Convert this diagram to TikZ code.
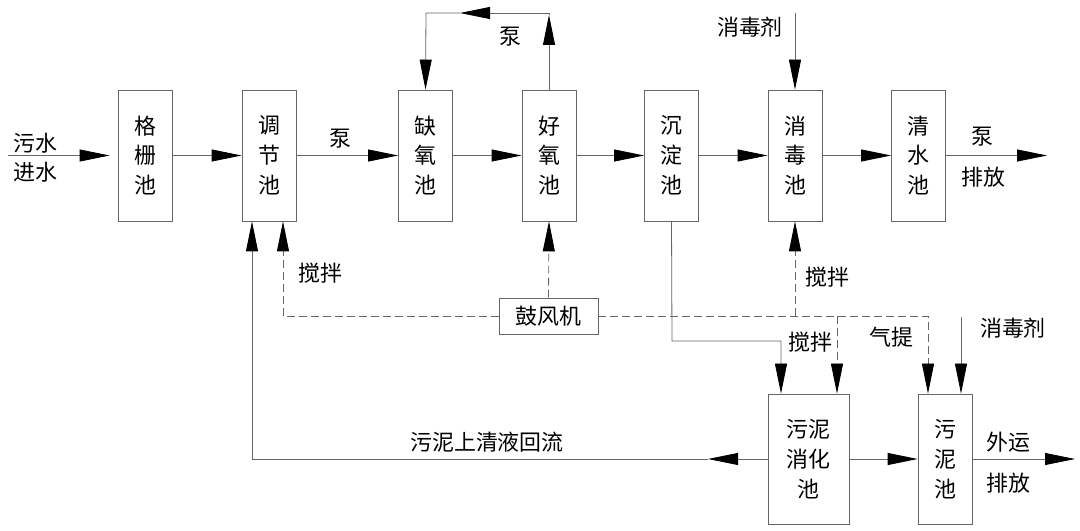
\documentclass[tikz,border=0pt]{standalone}
\usepackage{fontspec}
\setmainfont{Noto Sans CJK SC}
\usetikzlibrary{arrows.meta}
\begin{document}
\begin{tikzpicture}[x=1bp,y=-1bp,
 ln/.style={draw=black!60, line width=0.8bp},
 arr/.style={ln, -{Triangle[length=30bp,width=12bp,color=black]}},
 dsh/.style={dash pattern=on 8bp off 4bp},
 tank/.style={draw=black!60, line width=0.8bp, minimum width=54bp, minimum height=131bp, inner sep=0pt, align=center, font=\fontsize{22}{30}\selectfont},
 lbl/.style={font=\fontsize{22}{29}\selectfont, inner sep=0pt, align=center}]
\useasboundingbox[fill=white] (0,0) rectangle (1080,531);
% main tanks
\node[tank] (gs) at (145,155.5) {格\\栅\\池};
\node[tank] (tj) at (269,155.5) {调\\节\\池};
\node[tank] (qy) at (425.5,155.5) {缺\\氧\\池};
\node[tank] (hy) at (549,155.5) {好\\氧\\池};
\node[tank] (cd) at (671.5,155.5) {沉\\淀\\池};
\node[tank] (xd) at (795,155.5) {消\\毒\\池};
\node[tank] (qs) at (918.5,155.5) {清\\水\\池};
\node[tank, minimum width=81bp, minimum height=130bp] (xh) at (808.5,459) {污泥\\消化\\池};
\node[tank, minimum height=130bp] (wn) at (945,459) {污\\泥\\池};
\node[tank, minimum width=99bp, minimum height=36bp] (gf) at (548.5,316) {鼓风机};
% labels
\node[lbl] (t1) at (35,157.5) {污水\\进水};
\node[lbl] (t2) at (340,139) {泵};
\node[lbl] (t3) at (510,37) {泵};
\node[lbl] (t4) at (750,27) {消毒剂};
\node[lbl] (t5) at (982,137) {泵};
\node[lbl] (t6) at (983,177) {排放};
\node[lbl] (t7) at (320,273) {搅拌};
\node[lbl] (t8) at (827,277) {搅拌};
\node[lbl] (t9) at (810,342) {搅拌};
\node[lbl] (t10) at (891,337) {气提};
\node[lbl] (t11) at (1013,328) {消毒剂};
\node[lbl] (t12) at (1008,442) {外运};
\node[lbl] (t13) at (1008,483) {排放};
\node[lbl] (t14) at (487,442) {污泥上清液回流};
% coordinates
\coordinate (in) at (8,155.5);
\coordinate (out1) at (1047,155.5);
\coordinate (out2) at (1075,459);
\coordinate (r1) at (549,15);
\coordinate (r2) at (549,13);
\coordinate (r3) at (460,13);
\coordinate (r4) at (426,13);
\coordinate (d1) at (795,13);
\coordinate (back) at (708,459);
\coordinate (bc) at (252,459);
\coordinate (s1) at (672,341);
\coordinate (s2) at (781,341);
\coordinate (a1) at (283,316);
\coordinate (a2) at (928,316);
\coordinate (a3) at (795,316);
\coordinate (a4) at (837,316);
\coordinate (d2) at (961,317);
% main flow
\draw[arr, shorten >=8bp] (in) -- (gs.west);
\draw[arr] (gs.east) -- (tj.west);
\draw[arr] (tj.east) -- (qy.west);
\draw[arr] (qy.east) -- (hy.west);
\draw[arr] (hy.east) -- (cd.west);
\draw[arr] (cd.east) -- (xd.west);
\draw[arr] (xd.east) -- (qs.west);
\draw[arr] (qs.east) -- (out1);
% recycle
\draw[arr] (hy.north) -- (r1);
\draw[arr] (r1) -- (r2) -- (r3);
\draw[arr] (r3) -- (r4) -- (qy.north);
% disinfectant
\draw[arr] (d1) -- (xd.north);
\draw[arr] (d2) -- (d2 |- wn.north);
% sludge
\draw[arr] (cd.south) -- (s1) -- (s2) -- (s2 |- xh.north);
\draw[arr] (xh.west |- back) -- (back);
\draw[arr] (back) -- (bc) -- (bc |- tj.south);
\draw[arr] (xh.east |- wn.west) -- (wn.west);
\draw[arr] (wn.east) -- (out2);
% air
\draw[arr, dsh] (gf.west) -- (a1) -- (a1 |- tj.south);
\draw[arr, dsh] (gf.north) -- (hy.south);
\draw[arr, dsh] (gf.east) -- (a2) -- (a2 |- wn.north);
\draw[arr, dsh] (a3) -- (xd.south);
\draw[arr, dsh] (a4) -- (a4 |- xh.north);
\end{tikzpicture}
\end{document}
